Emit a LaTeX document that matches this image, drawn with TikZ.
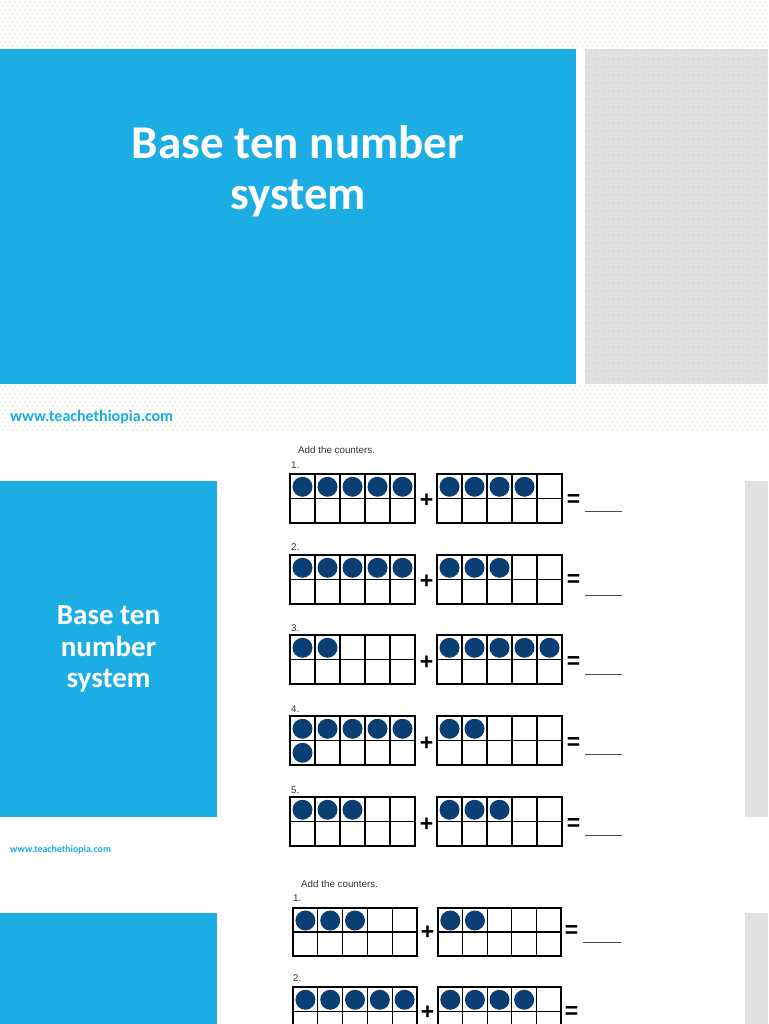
\documentclass[tikz,border=0pt]{standalone}
\usepackage{fontspec}
\setmainfont{Carlito}
\newfontfamily\labelfont{Liberation Sans}
\definecolor{slideblue}{HTML}{1CADE4}
\definecolor{panelgray}{HTML}{E1E1E1}
\definecolor{counterblue}{HTML}{0B3F74}
\definecolor{dotgreen}{HTML}{DCE8C8}
\definecolor{dotgray}{HTML}{D2D2D2}
\definecolor{inkgray}{HTML}{333333}
\tikzset{
  framegrid/.style={draw=black,line width=1.5pt},
  counter/.style={fill=counterblue,draw=none},
  titletext/.style={text=white,align=center,font=\bfseries,inner sep=0pt},
  linktext/.style={text=slideblue,font=\bfseries,anchor=west,inner sep=0pt},
  smalllabel/.style={text=inkgray,anchor=west,inner sep=0pt,font=\labelfont\fontsize{9.8}{11}\selectfont},
  opsign/.style={text=black,inner sep=0pt,font=\labelfont\bfseries\fontsize{23}{23}\selectfont},
  blankline/.style={draw=black!70,line width=0.7pt}
}
% #1 x, #2 y, #3 width, #4 height, #5 top counters, #6 bottom counters
\newcommand{\tenframe}[6]{%
  \pgfmathsetmacro{\cw}{#3/5}\pgfmathsetmacro{\ch}{#4/2}
  \foreach \i in {1,...,4}{\draw[black,line width=1.2pt] ({#1+\i*\cw},#2) -- ({#1+\i*\cw},{#2+#4});}
  \draw[black,line width=1.2pt] (#1,{#2+\ch}) -- ({#1+#3},{#2+\ch});
  \draw[framegrid] (#1,#2) rectangle ({#1+#3},{#2+#4});
  \ifnum#5>0 \foreach \i in {1,...,#5}{\fill[counter] ({#1+(\i-0.5)*\cw},{#2+\ch/2+0.5}) circle (10);}\fi
  \ifnum#6>0 \foreach \i in {1,...,#6}{\fill[counter] ({#1+(\i-0.5)*\cw},{#2+1.5*\ch}) circle (10);}\fi
}
\begin{document}
\begin{tikzpicture}[x=1pt,y=-1pt]
\useasboundingbox (0,0) rectangle (768,1024);
\clip (0,0) rectangle (768,1024);
\fill[white] (0,0) rectangle (768,1024);
% dotted texture
\foreach \r in {0,...,11}{
  \pgfmathsetmacro{\off}{mod(\r,2)*2.5}
  \foreach \c in {0,...,153}{
    \fill[dotgreen] ({\c*5+\off},{2+\r*4}) circle (0.8);
    \fill[dotgreen] ({\c*5+\off},{386+\r*4}) circle (0.8);
  }
}
% slide 1
\fill[slideblue] (0,49) rectangle (576,384);
\fill[panelgray] (585,49) rectangle (768,384);
\foreach \r in {0,...,41}{
  \pgfmathsetmacro{\off}{mod(\r,2)*2.5}
  \foreach \c in {0,...,36}{
    \fill[dotgray] ({586+\c*5+\off},{51+\r*8}) circle (0.8);
  }
}
\node[titletext,font=\bfseries\fontsize{47}{51}\selectfont] (maintitle) at (298,171) {Base ten number\\system};
\node[linktext,font=\bfseries\fontsize{16}{18}\selectfont] (linkone) at (10,417) {www.teachethiopia.com};
% slide 2
\fill[slideblue] (0,481) rectangle (217,817);
\fill[panelgray] (745,481) rectangle (768,817);
\node[titletext,font=\bfseries\fontsize{29}{31.7}\selectfont] (sidetitle) at (108.5,649) {Base ten\\number\\system};
\node[linktext,font=\bfseries\fontsize{9.9}{11}\selectfont] (linktwo) at (10,849.5) {www.teachethiopia.com};
\node[smalllabel] (adda) at (298,450) {Add the counters.};
\node[smalllabel] (la1) at (291,465.5) {1.};
\tenframe{290}{474}{125}{49}{5}{0}\tenframe{437}{474}{125}{49}{4}{0}
\node[opsign] (pa1) at (426.5,501) {+};
\node[opsign] (ea1) at (573.5,501) {=};
\coordinate (ua1l) at (585,511);\coordinate (ua1r) at (622,511);\draw[blankline] (ua1l) -- (ua1r);
\node[smalllabel] (la2) at (291,547) {2.};
\tenframe{290}{555}{125}{49}{5}{0}\tenframe{437}{555}{125}{49}{3}{0}
\node[opsign] (pa2) at (426.5,582) {+};
\node[opsign] (ea2) at (573.5,581) {=};
\coordinate (ua2l) at (585,595);\coordinate (ua2r) at (622,595);\draw[blankline] (ua2l) -- (ua2r);
\node[smalllabel] (la3) at (291,628) {3.};
\tenframe{290}{635}{125}{49}{2}{0}\tenframe{437}{635}{125}{49}{5}{0}
\node[opsign] (pa3) at (426.5,663) {+};
\node[opsign] (ea3) at (573.5,663) {=};
\coordinate (ua3l) at (585,674);\coordinate (ua3r) at (622,674);\draw[blankline] (ua3l) -- (ua3r);
\node[smalllabel] (la4) at (291,709) {4.};
\tenframe{290}{716}{125}{49}{5}{1}\tenframe{437}{716}{125}{49}{2}{0}
\node[opsign] (pa4) at (426.5,744) {+};
\node[opsign] (ea4) at (573.5,744) {=};
\coordinate (ua4l) at (585,754);\coordinate (ua4r) at (622,754);\draw[blankline] (ua4l) -- (ua4r);
\node[smalllabel] (la5) at (291,790) {5.};
\tenframe{290}{797}{125}{49}{3}{0}\tenframe{437}{797}{125}{49}{3}{0}
\node[opsign] (pa5) at (426.5,825) {+};
\node[opsign] (ea5) at (573.5,825) {=};
\coordinate (ua5l) at (585,835);\coordinate (ua5r) at (622,835);\draw[blankline] (ua5l) -- (ua5r);
% slide 3
\fill[slideblue] (0,913) rectangle (217,1024);
\fill[panelgray] (745,913) rectangle (768,1024);
\node[smalllabel] (addb) at (301,884) {Add the counters.};
\node[smalllabel] (lb1) at (293,898) {1.};
\tenframe{293}{908}{124}{48}{3}{0}\tenframe{438}{908}{123}{48}{2}{0}
\node[opsign] (pb1) at (427.5,933) {+};
\node[opsign] (eb1) at (571.5,932) {=};
\coordinate (ub1l) at (583,942);\coordinate (ub1r) at (621,942);\draw[blankline] (ub1l) -- (ub1r);
\node[smalllabel] (lb2) at (293,978) {2.};
\tenframe{293}{987}{124}{49}{5}{0}\tenframe{438}{987}{123}{49}{4}{0}
\node[opsign] (pb2) at (427.5,1013) {+};
\node[opsign] (eb2) at (571.5,1013) {=};
\end{tikzpicture}
\end{document}
